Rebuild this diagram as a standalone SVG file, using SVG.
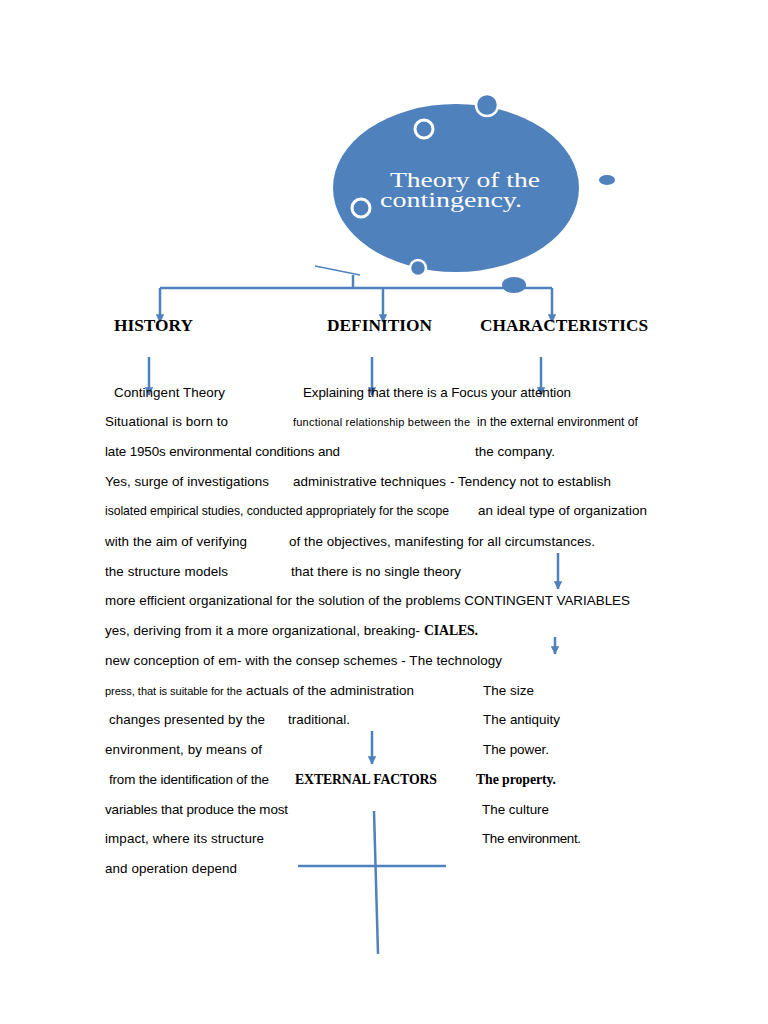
<svg xmlns="http://www.w3.org/2000/svg" width="768" height="1024" viewBox="0 0 768 1024">
<defs>
<style>
.t{font-family:"Liberation Sans",Arial,sans-serif;font-size:13.4px;fill:#000}
.s{font-size:12.2px}
.xs{font-size:11px}
.h{font-family:"Liberation Serif","Times New Roman",serif;font-weight:bold;font-size:16.5px;fill:#000}
.b{font-family:"Liberation Serif","Times New Roman",serif;font-weight:bold;font-size:13.8px;fill:#000}
.ln{stroke:#4F81BD;stroke-width:2.5;fill:none}
</style>
<marker id="ah" viewBox="0 0 10 10" refX="9" refY="5" markerWidth="3.4" markerHeight="3.4" orient="auto" markerUnits="strokeWidth">
<path d="M0,0 L10,5 L0,10 z" fill="#4F81BD"/>
</marker>
</defs>
<rect width="768" height="1024" fill="#fff"/>
<g id="title">
<ellipse cx="456" cy="188" rx="123" ry="84" fill="#4F81BD"/>
<circle cx="487" cy="105" r="11" fill="#4F81BD" stroke="#fff" stroke-width="2.5"/>
<circle cx="424" cy="129" r="9" fill="#4F81BD" stroke="#fff" stroke-width="3"/>
<circle cx="361" cy="208" r="9" fill="#4F81BD" stroke="#fff" stroke-width="3"/>
<circle cx="418" cy="268" r="8" fill="#4F81BD" stroke="#fff" stroke-width="2.5"/>
<ellipse cx="607" cy="180" rx="8" ry="5" fill="#4F81BD"/>
<text x="390" y="187" font-family="'Liberation Serif','Times New Roman',serif" font-size="20" fill="#fff" textLength="150" lengthAdjust="spacingAndGlyphs">Theory of the</text>
<text x="380" y="207" font-family="'Liberation Serif','Times New Roman',serif" font-size="20" fill="#fff" textLength="142" lengthAdjust="spacingAndGlyphs">contingency.</text>
</g>
<g id="connectors">
<line x1="315" y1="266" x2="360" y2="275" stroke="#4F81BD" stroke-width="1.5"/>
<line class="ln" x1="353" y1="275" x2="353" y2="288"/>
<line class="ln" x1="160" y1="288" x2="552" y2="288"/>
<line class="ln" x1="160" y1="288" x2="160" y2="322" marker-end="url(#ah)"/>
<line class="ln" x1="383" y1="288" x2="383" y2="322" marker-end="url(#ah)"/>
<line class="ln" x1="552" y1="288" x2="552" y2="322" marker-end="url(#ah)"/>
<line class="ln" x1="149" y1="357" x2="149" y2="395" marker-end="url(#ah)"/>
<line class="ln" x1="372" y1="357" x2="372" y2="395" marker-end="url(#ah)"/>
<line class="ln" x1="541" y1="357" x2="541" y2="395" marker-end="url(#ah)"/>
<line class="ln" x1="558" y1="553" x2="558" y2="589" marker-end="url(#ah)"/>
<line class="ln" x1="555" y1="637" x2="555" y2="654" marker-end="url(#ah)"/>
<line class="ln" x1="372" y1="731" x2="372" y2="764" marker-end="url(#ah)"/>
<line class="ln" x1="374" y1="811" x2="378" y2="954"/>
<line class="ln" x1="298" y1="866" x2="446" y2="866"/>
</g>
<ellipse cx="514" cy="285" rx="12" ry="8" fill="#4F81BD"/>
<g id="history"><text class="h" x="114" y="331" textLength="79" lengthAdjust="spacingAndGlyphs">HISTORY</text></g>
<g id="definition"><text class="h" x="327" y="331" textLength="105" lengthAdjust="spacingAndGlyphs">DEFINITION</text></g>
<g id="characteristics"><text class="h" x="480" y="331" textLength="168" lengthAdjust="spacingAndGlyphs">CHARACTERISTICS</text></g>
<g id="body">
<text class="t" x="114" y="397" textLength="111">Contingent Theory</text>
<text class="t" x="303" y="397" textLength="268">Explaining that there is a Focus your attention</text>
<text class="t" x="105" y="426" textLength="123">Situational is born to</text>
<text class="t xs" x="293" y="426" textLength="177">functional relationship between the</text>
<text class="t s" x="477" y="426" textLength="161">in the external environment of</text>
<text class="t" x="105" y="456" textLength="235">late 1950s environmental conditions and</text>
<text class="t" x="475" y="456" textLength="80">the company.</text>
<text class="t" x="105" y="486" textLength="164">Yes, surge of investigations</text>
<text class="t" x="293" y="486" textLength="318">administrative techniques - Tendency not to establish</text>
<text class="t s" x="105" y="515" textLength="344">isolated empirical studies, conducted appropriately for the scope</text>
<text class="t" x="478" y="515" textLength="169">an ideal type of organization</text>
<text class="t" x="105" y="546" textLength="142">with the aim of verifying</text>
<text class="t" x="289" y="546" textLength="306">of the objectives, manifesting for all circumstances.</text>
<text class="t" x="105" y="576" textLength="123">the structure models</text>
<text class="t" x="291" y="576" textLength="170">that there is no single theory</text>
<text class="t" x="105" y="605" textLength="525">more efficient organizational for the solution of the problems CONTINGENT VARIABLES</text>
<text class="t" x="105" y="635" textLength="315">yes, deriving from it a more organizational, breaking-</text>
<text class="b" x="424" y="635" textLength="54">CIALES.</text>
<text class="t" x="105" y="665" textLength="397">new conception of em- with the consep schemes - The technology</text>
<text class="t xs" x="105" y="695" textLength="137">press, that is suitable for the</text>
<text class="t" x="246" y="695" textLength="168">actuals of the administration</text>
<text class="t" x="483" y="695" textLength="51">The size</text>
<text class="t" x="109" y="724" textLength="156">changes presented by the</text>
<text class="t" x="288" y="724" textLength="62">traditional.</text>
<text class="t" x="483" y="724" textLength="77">The antiquity</text>
<text class="t" x="105" y="754" textLength="157">environment, by means of</text>
<text class="t" x="483" y="754" textLength="66">The power.</text>
<text class="t" x="109" y="784" textLength="160">from the identification of the</text>
<text class="b" x="295" y="784" textLength="142">EXTERNAL FACTORS</text>
<text class="b" x="476" y="784" textLength="80">The property.</text>
<text class="t" x="105" y="814" textLength="183">variables that produce the most</text>
<text class="t" x="482" y="814" textLength="67">The culture</text>
<text class="t" x="105" y="843" textLength="159">impact, where its structure</text>
<text class="t" x="482" y="843" font-size="12.6" textLength="99">The environment.</text>
<text class="t" x="105" y="873" textLength="132">and operation depend</text>
</g>
</svg>
